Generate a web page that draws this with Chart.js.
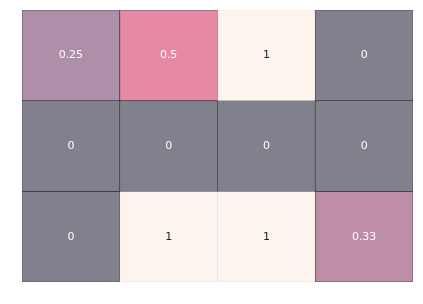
<!DOCTYPE html>
<html>
<head>
<meta charset="utf-8">
<script src="https://cdn.jsdelivr.net/npm/chart.js@4"></script>
<style>
  html, body { margin: 0; padding: 0; background: #fff; }
  #wrap { width: 423px; height: 304px; }
</style>
</head>
<body>
<div id="wrap"><canvas id="heat"></canvas></div>
<script>
// columns left to right, rows top to bottom
const columns = ["c1", "c2", "c3", "c4"];
const rowNames = ["r1", "r2", "r3"];
const row1 = [0.25, 0.5, 1, 0];
const row2 = [0, 0, 0, 0];
const row3 = [0, 1, 1, 0.33];
const rows = [row1, row2, row3];

// colour stops
const stops = [
    [0, [128, 129, 141]],
    [0.25, [174, 142, 168]],
    [0.5, [230, 138, 163]],
    [1, [253, 244, 237]]
];

function cellColor(v) {
    for (let i = 1; i < stops.length; i++) {
        if (v <= stops[i][0]) {
            let [a, ca] = stops[i - 1];
            let [b, cb] = stops[i];
            let t = (v - a) / (b - a);
            let c = ca.map((x, k) => Math.round(x + (cb[k] - x) * t));
            return `rgb(${c[0]},${c[1]},${c[2]})`;
        }
    }
    let c = stops[stops.length - 1][1];
    return `rgb(${c[0]},${c[1]},${c[2]})`;
}

const cellLabels = {
    id: "cellLabels",
    afterDatasetsDraw(chart) {
        let ctx = chart.ctx;
        ctx.save();
        ctx.font = "11px 'DejaVu Sans'";
        ctx.textAlign = "center";
        ctx.textBaseline = "middle";
        chart.data.datasets.forEach((ds, di) => {
            chart.getDatasetMeta(di).data.forEach((bar, i) => {
                let v = ds.values[i];
                let p = bar.getCenterPoint();
                ctx.fillStyle = v >= 0.9 ? "#222" : "#fff";
                ctx.fillText(String(v), p.x, p.y);
            });
        });
        ctx.restore();
    }
};

new Chart(document.getElementById("heat"), {
    type: "bar",
    data: {
        labels: columns,
        datasets: rows.map((r, idx) => ({
            label: rowNames[idx],
            values: r,
            data: r.map(() => 1),
            backgroundColor: r.map(cellColor),
            borderColor: r.map(v => v >= 0.9 ? "rgba(200,190,185,0.35)" : "rgba(30,25,40,0.75)"),
            borderWidth: 0.8,
            borderSkipped: false,
            barPercentage: 1,
            categoryPercentage: 1
        }))
    },
    options: {
        responsive: true,
        maintainAspectRatio: false,
        animation: false,
        layout: { padding: { left: 22, right: 10, top: 10, bottom: 22 } },
        plugins: {
            legend: { display: false },
            tooltip: { enabled: false }
        },
        scales: {
            x: { stacked: true, display: false },
            y: { stacked: true, display: false, reverse: true, min: 0, max: 3 }
        }
    },
    plugins: [cellLabels]
});
</script>
</body>
</html>
